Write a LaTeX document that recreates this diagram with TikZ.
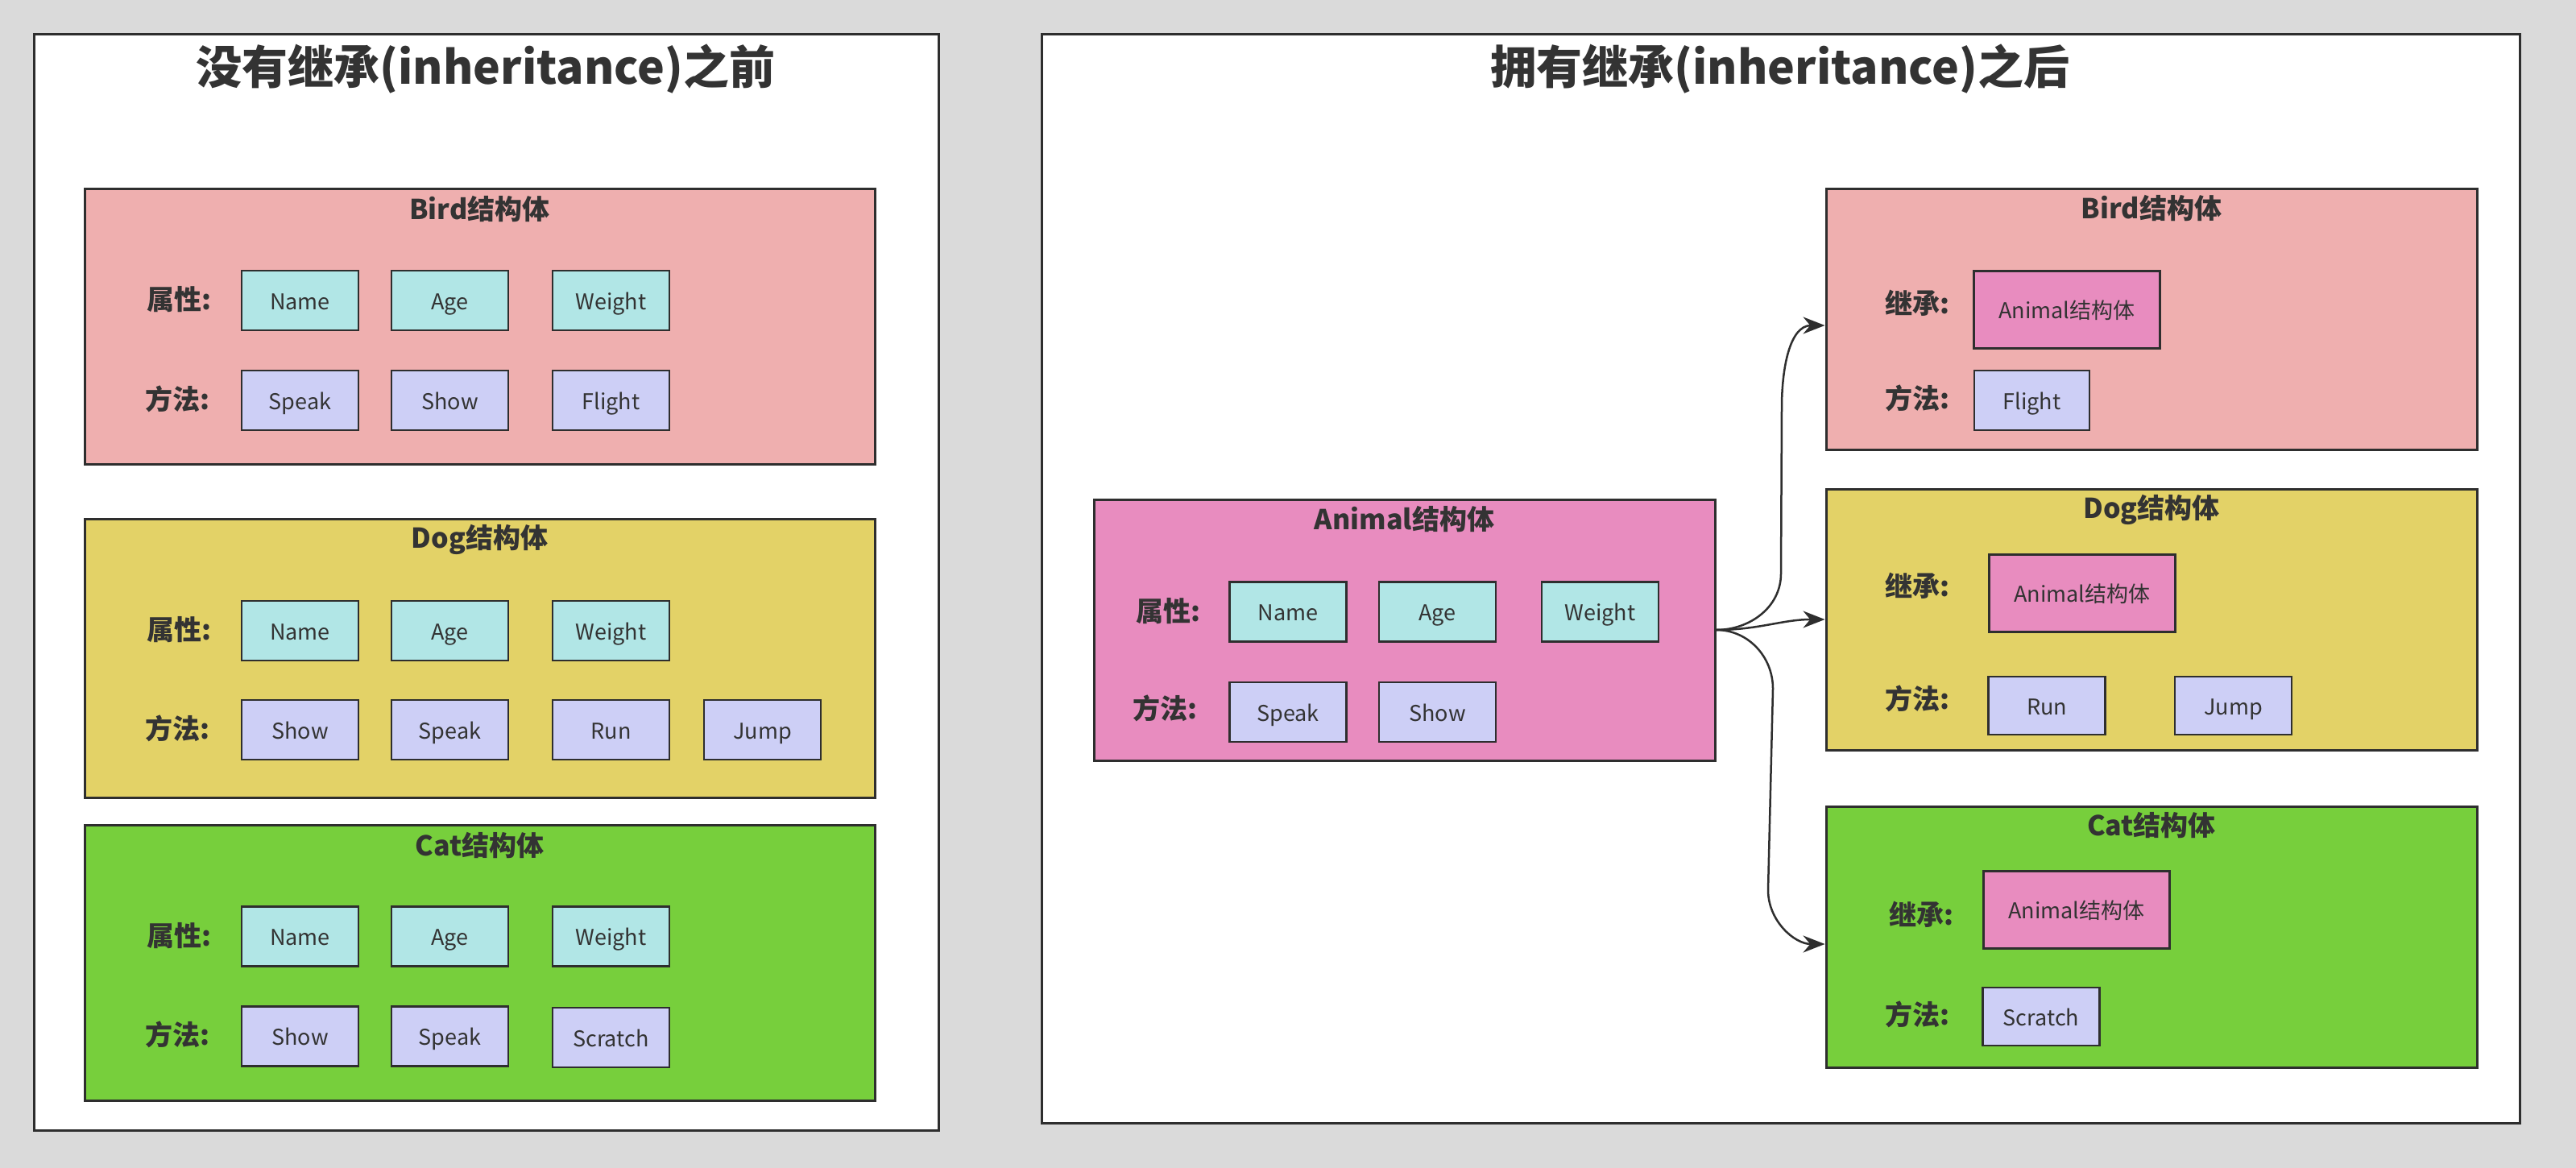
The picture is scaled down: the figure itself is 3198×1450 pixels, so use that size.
\documentclass[tikz,border=0pt]{standalone}
\usepackage{fontspec}
\setmainfont{Noto Sans CJK SC}
\usetikzlibrary{arrows.meta}
\definecolor{bgC}{HTML}{DADADA}
\definecolor{lineC}{HTML}{2E2E2E}
\definecolor{txt}{HTML}{333333}
\definecolor{birdC}{HTML}{EFAFAF}
\definecolor{dogC}{HTML}{E3D267}
\definecolor{catC}{HTML}{77CF3C}
\definecolor{attrC}{HTML}{B1E6E6}
\definecolor{methC}{HTML}{CDCFF6}
\definecolor{animC}{HTML}{E88CBF}
\tikzset{
  panel/.style={draw=lineC, line width=3pt, fill=white},
  struct/.style={draw=lineC, line width=3pt, inner sep=0pt},
  item/.style={draw=lineC, line width=2.5pt, minimum width=145pt, minimum height=74pt, inner sep=0pt, text height=24pt, text depth=2pt, font=\fontsize{27}{32}\selectfont, text=txt},
  attr/.style={item, fill=attrC},
  meth/.style={item, fill=methC},
  inh/.style={item, fill=animC, minimum width=231pt, minimum height=96pt},
  lbl/.style={font=\bfseries\fontsize{34}{40}\selectfont, text=txt, text height=30pt, text depth=2pt},
  stitle/.style={font=\bfseries\fontsize{34}{40}\selectfont, text=txt},
  bigtitle/.style={font=\bfseries\fontsize{57}{68}\selectfont, text=txt},
  arr/.style={draw=lineC, line width=2.5pt, -{Stealth[length=27pt,width=21pt]}},
}
\begin{document}
\begin{tikzpicture}[x=1pt,y=-1pt]
\fill[bgC] (0,0) rectangle (3198,1450);
\useasboundingbox (0,0) rectangle (3198,1450);
% panels
\node[panel, minimum width=1123pt, minimum height=1360pt] (lpanel) at (603.5,723) {};
\node[panel, minimum width=1835pt, minimum height=1351pt] (rpanel) at (2210.5,718.5) {};
\node[bigtitle] (ltitle) at (603,86) {没有继承(inheritance)之前};
\node[bigtitle] (rtitle) at (2210,86) {拥有继承(inheritance)之后};

% ===== left: Bird
\node[struct, fill=birdC, minimum width=981pt, minimum height=342pt] (lbird) at (595.5,405) {};
\node[stitle] (lbirdt) at (595.5,260) {Bird结构体};
\node[lbl] (lbirdl1) at (222,370) {属性:};
\node[lbl] (lbirdl2) at (220,494) {方法:};
\node[attr] (lb1) at (372.5,373) {Name};
\node[attr] (lb2) at (558.5,373) {Age};
\node[attr] (lb3) at (758.5,373) {Weight};
\node[meth] (lb4) at (372.5,497) {Speak};
\node[meth] (lb5) at (558.5,497) {Show};
\node[meth] (lb6) at (758.5,497) {Flight};

% ===== left: Dog
\node[struct, fill=dogC, minimum width=981pt, minimum height=346pt] (ldog) at (595.5,817) {};
\node[stitle] (ldogt) at (595.5,670) {Dog结构体};
\node[lbl] (ldogl1) at (222,780) {属性:};
\node[lbl] (ldogl2) at (220,903) {方法:};
\node[attr] (ld1) at (372.5,783) {Name};
\node[attr] (ld2) at (558.5,783) {Age};
\node[attr] (ld3) at (758.5,783) {Weight};
\node[meth] (ld4) at (372.5,906) {Show};
\node[meth] (ld5) at (558.5,906) {Speak};
\node[meth] (ld6) at (758.5,906) {Run};
\node[meth] (ld7) at (946.5,906) {Jump};

% ===== left: Cat
\node[struct, fill=catC, minimum width=981pt, minimum height=342pt] (lcat) at (595.5,1195) {};
\node[stitle] (lcatt) at (595.5,1050) {Cat结构体};
\node[lbl] (lcatl1) at (222,1160) {属性:};
\node[lbl] (lcatl2) at (220,1283) {方法:};
\node[attr] (lc1) at (372.5,1162.5) {Name};
\node[attr] (lc2) at (558.5,1162.5) {Age};
\node[attr] (lc3) at (758.5,1162.5) {Weight};
\node[meth] (lc4) at (372.5,1286.5) {Show};
\node[meth] (lc5) at (558.5,1286.5) {Speak};
\node[meth] (lc6) at (758.5,1288) {Scratch};

% ===== right: Animal
\node[struct, fill=animC, minimum width=771pt, minimum height=324pt] (ranimal) at (1743.5,782) {};
\node[stitle] (ranimalt) at (1743.5,645) {Animal结构体};
\node[lbl] (ral1) at (1450,757) {属性:};
\node[lbl] (ral2) at (1446,878) {方法:};
\node[attr] (ra1) at (1599,759.5) {Name};
\node[attr] (ra2) at (1784.5,759.5) {Age};
\node[attr] (ra3) at (1986.5,759.5) {Weight};
\node[meth] (ra4) at (1599,884) {Speak};
\node[meth] (ra5) at (1784.5,884) {Show};

% ===== right: Bird
\node[struct, fill=birdC, minimum width=808pt, minimum height=324pt] (rbird) at (2671,396) {};
\node[stitle] (rbirdt) at (2671,259) {Bird结构体};
\node[lbl] (rbl1) at (2380,375) {继承:};
\node[lbl] (rbl2) at (2380,493) {方法:};
\node[inh] (rb1) at (2566,384.5) {Animal结构体};
\node[meth, minimum width=143pt] (rb2) at (2522.5,497) {Flight};

% ===== right: Dog
\node[struct, fill=dogC, minimum width=808pt, minimum height=324pt] (rdog) at (2671,769) {};
\node[stitle] (rdogt) at (2671,633) {Dog结构体};
\node[lbl] (rdl1) at (2380,726) {继承:};
\node[lbl] (rdl2) at (2380,866) {方法:};
\node[inh] (rd1) at (2585,736.5) {Animal结构体};
\node[meth, minimum height=72pt] (rd2) at (2541,876) {Run};
\node[meth, minimum height=72pt] (rd3) at (2772.5,876) {Jump};

% ===== right: Cat
\node[struct, fill=catC, minimum width=808pt, minimum height=324pt] (rcat) at (2671,1163) {};
\node[stitle] (rcatt) at (2671,1025) {Cat结构体};
\node[lbl] (rcl1) at (2385,1134) {继承:};
\node[lbl] (rcl2) at (2380,1258) {方法:};
\node[inh] (rc1) at (2578,1129.5) {Animal结构体};
\node[meth, minimum height=72pt] (rc2) at (2534,1262) {Scratch};

% ===== connectors
\coordinate (b1) at (2211,712);
\coordinate (b2) at (2212,505);
\coordinate (c1) at (2201,855);
\coordinate (c2) at (2195,1105);
\draw[arr] (ranimal.east) to[out=0,in=-90] (b1) -- (b2) to[out=90,in=180] ([yshift=-8pt]rbird.west);
\draw[arr] (ranimal.east) to[out=0,in=180] (rdog.west);
\draw[arr] (ranimal.east) to[out=0,in=90] (c1) -- (c2) to[out=-90,in=180] ([yshift=-9pt]rcat.west);
\end{tikzpicture}
\end{document}
